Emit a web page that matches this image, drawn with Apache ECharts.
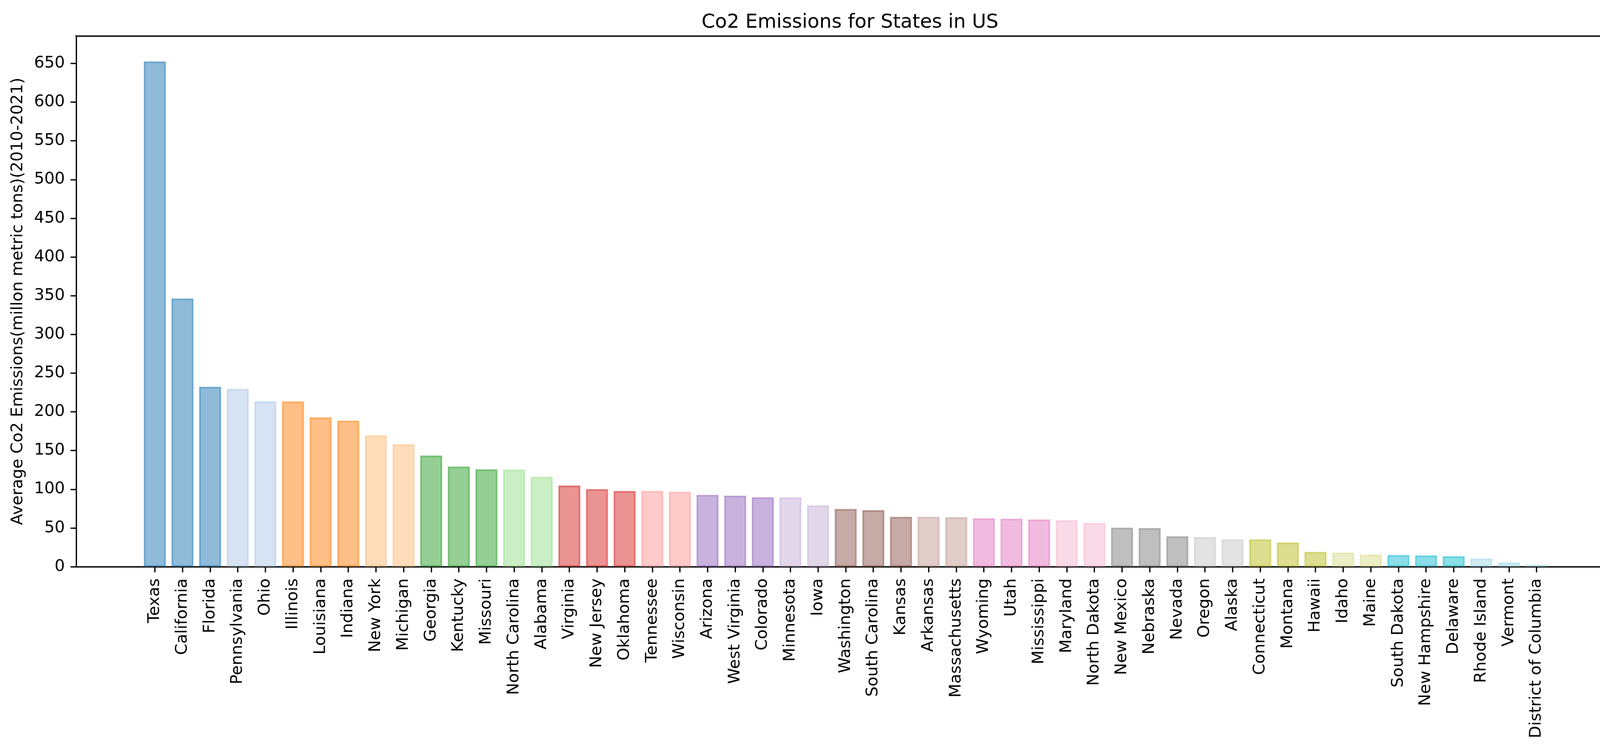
<!DOCTYPE html>
<html>
<head>
<meta charset="utf-8">
<script src="https://cdn.jsdelivr.net/npm/echarts@6/dist/echarts.min.js"></script>
<style>
html,body{margin:0;padding:0;background:#fff;overflow:hidden;}
#chart{width:4177px;height:1923px;}
</style>
</head>
<body>
<div id="chart"></div>
<script>
const states = ["Texas","California","Florida","Pennsylvania","Ohio","Illinois","Louisiana","Indiana","New York","Michigan","Georgia","Kentucky","Missouri","North Carolina","Alabama","Virginia","New Jersey","Oklahoma","Tennessee","Wisconsin","Arizona","West Virginia","Colorado","Minnesota","Iowa","Washington","South Carolina","Kansas","Arkansas","Massachusetts","Wyoming","Utah","Mississippi","Maryland","North Dakota","New Mexico","Nebraska","Nevada","Oregon","Alaska","Connecticut","Montana","Hawaii","Idaho","Maine","South Dakota","New Hampshire","Delaware","Rhode Island","Vermont","District of Columbia"];
const emissions = [652.6,346.4,232.4,229.8,213.7,213.5,193.0,188.7,169.6,158.1,143.6,129.4,125.8,125.5,116.2,104.9,100.3,97.8,97.8,96.8,92.8,91.8,89.7,89.7,79.2,74.6,73.1,64.5,64.5,64.0,62.5,62.0,61.0,60.0,56.5,50.4,49.9,39.3,38.3,35.3,35.3,31.3,19.2,18.2,15.6,15.1,14.6,13.6,10.6,5.5,2.5];
const yTicks = [0,50,100,150,200,250,300,350,400,450,500,550,600,650];
const tab20 = ["#1f77b4","#aec7e8","#ff7f0e","#ffbb78","#2ca02c","#98df8a","#d62728","#ff9896","#9467bd","#c5b0d5","#8c564b","#c49c94","#e377c2","#f7b6d2","#7f7f7f","#c7c7c7","#bcbd22","#dbdb8d","#17becf","#9edae5"];
const titleText = "Co2 Emissions for States in US";
const yName = "Average Co2 Emissions(millon metric tons)(2010-2021)";

function rgba(hex, a){
  const r=parseInt(hex.slice(1,3),16),g=parseInt(hex.slice(3,5),16),b=parseInt(hex.slice(5,7),16);
  return `rgba(${r},${g},${b},${a})`;
}
const n = states.length;
const barData = emissions.map((v,i)=>{
  const idx = Math.min(19, Math.floor(i*20/(n-1)+1e-9));
  const c = tab20[idx];
  return {value:v, itemStyle:{color:rgba(c,0.5), borderColor:rgba(c,0.5), borderWidth:4.1}};
});

const FONT = "DejaVu Sans";
const spine = {show:true, onZero:false, lineStyle:{color:'#000', width:3.3, cap:'square'}};
function frameAxis(extra){
  return Object.assign({type:'value', gridIndex:0, min:0, max:1,
    axisLine:spine, axisTick:{show:false}, axisLabel:{show:false}, splitLine:{show:false}}, extra);
}
const chart = echarts.init(document.getElementById('chart'), null, {renderer:'canvas'});
chart.setOption({
  animation:false,
  backgroundColor:'#ffffff',
  title:{
    text:titleText, left:2171, top:28, textAlign:'center',
    textStyle:{fontFamily:FONT, fontSize:49.6, fontWeight:'normal', color:'#000'}
  },
  grid:[
    {left:195, right:29, top:92, bottom:472},
    {left:361, right:208, top:92, bottom:472}
  ],
  xAxis:[
    {type:'category', gridIndex:1, data:states, boundaryGap:true,
     axisLine:{show:false},
     axisTick:{show:true, alignWithLabel:true, length:14.5, lineStyle:{color:'#000', width:3.3}},
     axisLabel:{rotate:90, interval:0, margin:30, fontFamily:FONT, fontSize:41.3, color:'#000'},
     splitLine:{show:false}},
    frameAxis({position:'bottom'}),
    frameAxis({position:'top'})
  ],
  yAxis:[
    {type:'value', gridIndex:1, min:0, max:685.5, interval:50, offset:166,
     name:yName, nameLocation:'middle', nameGap:128,
     nameTextStyle:{fontFamily:FONT, fontSize:41.3, color:'#000'},
     axisLine:{show:false},
     axisTick:{show:true, length:14.5, customValues:yTicks, lineStyle:{color:'#000', width:3.3}},
     axisLabel:{margin:29, fontFamily:FONT, fontSize:41.3, color:'#000', customValues:yTicks,
       formatter:function(v){ return yTicks.indexOf(v)>=0 ? String(v) : ''; }},
     splitLine:{show:false}},
    frameAxis({position:'left'}),
    frameAxis({position:'right'})
  ],
  series:[{
    type:'bar', xAxisIndex:0, yAxisIndex:0, data:barData, barCategoryGap:'20%'
  }]
});
</script>
</body>
</html>
